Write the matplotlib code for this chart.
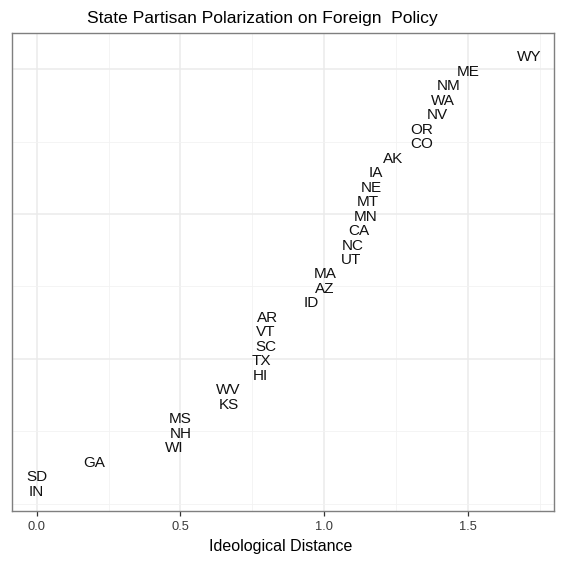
import numpy as np
import matplotlib.pyplot as plt
from matplotlib.transforms import offset_copy

plt.rcParams['font.family'] = ['Liberation Sans', 'DejaVu Sans']

# data: states ordered from lowest to highest ideological distance
states = ["IN", "SD", "GA", "WI", "NH", "MS", "KS", "WV", "HI", "TX",
          "SC", "VT", "AR", "ID", "AZ", "MA", "UT", "NC", "CA", "MN",
          "MT", "NE", "IA", "AK", "CO", "OR", "NV", "WA", "NM", "ME", "WY"]
distance = [0.0, 0.0, 0.201, 0.478, 0.501, 0.499, 0.668, 0.667, 0.778, 0.780,
            0.797, 0.798, 0.804, 0.955, 1.000, 1.002, 1.093, 1.100, 1.121, 1.145,
            1.150, 1.165, 1.179, 1.239, 1.337, 1.340, 1.394, 1.411, 1.433, 1.501, 1.713]
rank = np.arange(1, len(states) + 1)

x_major = [0.0, 0.5, 1.0, 1.5]
x_labels = ["0.0", "0.5", "1.0", "1.5"]

# plot
fig = plt.figure(figsize=(5.62, 5.62), dpi=100)
ax = fig.add_axes([12 / 562, 1 - 511 / 562, 542 / 562, 478 / 562])

# baseline shifted down so the capitals sit centred on each rank
shift = offset_copy(ax.transData, fig=fig, x=0, y=-6.5, units="dots")
for s, d, r in zip(states, distance, rank):
    ax.text(d, r, s, ha="center", va="baseline", fontsize=11,
            color="#111111", transform=shift)

xr = max(distance) - min(distance)
ax.set_xlim(min(distance) - 0.05 * xr, max(distance) + 0.05 * xr)
yr = rank.max() - rank.min()
ax.set_ylim(rank.min() - 0.05 * yr, rank.max() + 0.05 * yr)

ax.set_xticks(x_major)
ax.set_xticklabels(x_labels)
ax.set_xticks([0.25, 0.75, 1.25, 1.75], minor=True)
ax.set_yticks([10, 20, 30])
ax.set_yticks([0, 5, 15, 25], minor=True)
ax.set_yticklabels([])

ax.grid(True, which="major", color="#ebebeb", linewidth=1.1)
ax.grid(True, which="minor", color="#f2f2f2", linewidth=0.6)
ax.set_axisbelow(True)

ax.tick_params(axis="x", which="major", length=3.5, width=0.9, color="#333333",
               labelsize=9.3, labelcolor="#3a3a3a", pad=4)
ax.tick_params(axis="x", which="minor", length=0)
ax.tick_params(axis="y", which="both", length=0)

for sp in ax.spines.values():
    sp.set_color("#7f7f7f")
    sp.set_linewidth(1.0)

fig.text(262 / 562, 1 - 23.5 / 562, "State Partisan Polarization on Foreign  Policy",
         ha="center", va="baseline", fontsize=12.6, color="black")
fig.text(281 / 562, 1 - 551 / 562, "Ideological Distance",
         ha="center", va="baseline", fontsize=11.5, color="black")

plt.savefig("out.png", dpi=100)
